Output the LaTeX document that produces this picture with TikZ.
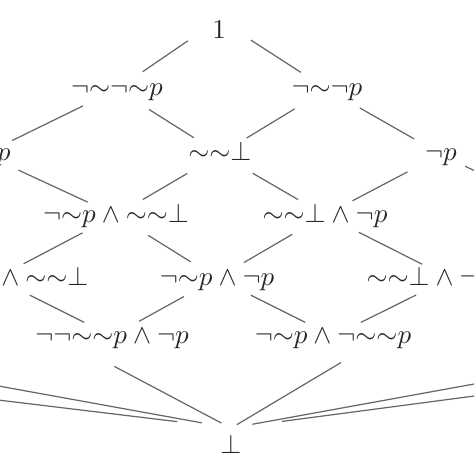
\documentclass[tikz,border=0pt]{standalone}

\newcommand{\wneg}{\mathord{\sim}}

\begin{document}
\begin{tikzpicture}[
    x=0.37pt, y=-0.37pt,
    elem/.style={
      inner sep=0pt,
      text height=7pt,
      text depth=2pt,
      text=black!85,
      anchor=base
    },
    link/.style={
      draw=black!60,
      line width=0.45pt,
      shorten <=14pt,
      shorten >=11.5pt
    }
]

\useasboundingbox (0,0) rectangle (474,474);
\clip (0,0) rectangle (474,474);

% the lattice, top to bottom
\node[elem] (top) at (219,39) {$1$};

\node[elem] (a1) at (117,96) {$\neg\wneg\neg\wneg p$};
\node[elem] (a2) at (327,96) {$\neg\wneg\neg p$};

\node[elem, anchor=base east] (b0) at (11,161) {$\neg\wneg p$};
\node[elem] (b1) at (220,161) {$\wneg\wneg\bot$};
\node[elem] (b2) at (441,161) {$\neg p$};

\node[elem] (c1) at (116,222) {$\neg\wneg p \wedge \wneg\wneg\bot$};
\node[elem] (c2) at (325,222) {$\wneg\wneg\bot \wedge \neg p$};

\node[elem, anchor=base east] (d0) at (89,285) {$\neg\neg\wneg\wneg p \wedge \wneg\wneg\bot$};
\node[elem] (d1) at (217,285) {$\neg\wneg p \wedge \neg p$};
\node[elem, anchor=base west] (d2) at (366,285) {$\wneg\wneg\bot \wedge \neg\wneg\wneg p$};

\node[elem] (e1) at (112,343) {$\neg\neg\wneg\wneg p \wedge \neg p$};
\node[elem] (e2) at (333,343) {$\neg\wneg p \wedge \neg\wneg\wneg p$};

\node[elem] (bot) at (231,453) {$\bot$};

% ends that lie outside the cut
\coordinate (c3) at (560,213);
\coordinate (farL) at (-200,350);
\coordinate (farLL) at (-300,364);
\coordinate (farR) at (700,343);
\coordinate (farRR) at (800,353);

\draw[link] (top.north) -- (a1.center);
\draw[link] (top.north) -- (a2.center);

\draw[link] (a1.center) -- (b0.center);
\draw[link] (a1.center) -- (b1.center);
\draw[link] (a2.center) -- (b1.center);
\draw[link] (a2.center) -- (b2.center);

\draw[link] (b0.center) -- (c1.center);
\draw[link] (b1.center) -- (c1.center);
\draw[link] (b1.center) -- (c2.center);
\draw[link] (b2.center) -- (c2.center);
\draw[link, shorten <=10pt] (b2.center) -- (c3);

\draw[link] (c1.center) -- (d0.center);
\draw[link] (c1.center) -- (d1.center);
\draw[link] (c2.center) -- (d1.center);
\draw[link] (c2.center) -- (d2.center);

\draw[link] (d0.center) -- (e1.center);
\draw[link] (d1.center) -- (e1.center);
\draw[link] (d1.center) -- (e2.center);
\draw[link] (d2.center) -- (e2.center);

\draw[link, shorten <=1pt, shorten >=4pt] ([yshift=-6pt]e1.south) -- ([yshift=2pt]bot.north);
\draw[link, shorten <=0pt, shorten >=2.5pt] ([shift={(3pt,-5pt)}]e2.south) -- ([yshift=2pt]bot.north);

\draw[link, shorten <=0pt, shorten >=11pt] (farL) -- ([yshift=2pt]bot.north);
\draw[link, shorten <=0pt, shorten >=20pt] (farLL) -- ([yshift=2pt]bot.north);
\draw[link, shorten <=0pt, shorten >=8pt] (farR) -- ([yshift=2pt]bot.north);
\draw[link, shorten <=0pt, shorten >=19pt] (farRR) -- ([yshift=2pt]bot.north);

\end{tikzpicture}
\end{document}
